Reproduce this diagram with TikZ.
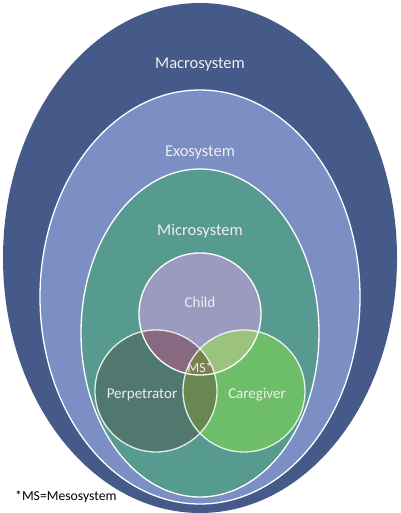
\documentclass[tikz,border=0pt]{standalone}
\usepackage{fontspec}
\setmainfont{Carlito}
\definecolor{macroc}{HTML}{465A8A}
\definecolor{exoc}{HTML}{7B8FC4}
\definecolor{microc}{HTML}{579A90}
\definecolor{childc}{HTML}{9B9BC0}
\definecolor{perpc}{HTML}{50786E}
\definecolor{carec}{HTML}{6EBE69}
\definecolor{cpc}{HTML}{876982}
\definecolor{ccc}{HTML}{9BC37D}
\definecolor{pcc}{HTML}{698750}
\definecolor{ctrc}{HTML}{788250}
\definecolor{txtc}{HTML}{EEEEEE}
\begin{document}
\begin{tikzpicture}[x=1pt,y=-1pt,
  syslabel/.style={text=txtc,font=\fontsize{16.5}{18}\selectfont,inner sep=0pt},
  inlabel/.style={text=txtc,font=\fontsize{15}{17}\selectfont,inner sep=0pt},
  whiteline/.style={draw=white,line width=1.3pt}]
\useasboundingbox (0,0) rectangle (400,513);
\fill[white] (0,0) rectangle (400,513);
% nested ellipses
\fill[macroc] (200,258) ellipse [x radius=197pt, y radius=255pt];
\filldraw[fill=exoc,whiteline] (200,297) ellipse [x radius=160pt, y radius=207pt];
\filldraw[fill=microc,whiteline] (200,333) ellipse [x radius=119pt, y radius=164pt];
% circles
\coordinate (cC) at (200,314);
\coordinate (cP) at (156,391);
\coordinate (cG) at (244,391);
\fill[childc] (cC) circle [radius=61pt];
\fill[perpc] (cP) circle [radius=61pt];
\fill[carec] (cG) circle [radius=61pt];
\begin{scope}
  \clip (cC) circle [radius=61pt];
  \fill[cpc] (cP) circle [radius=61pt];
  \fill[ccc] (cG) circle [radius=61pt];
\end{scope}
\begin{scope}
  \clip (cP) circle [radius=61pt];
  \clip (cG) circle [radius=61pt];
  \fill[pcc] (0,0) rectangle (400,513);
  \clip (cC) circle [radius=61pt];
  \fill[ctrc] (0,0) rectangle (400,513);
\end{scope}
\draw[whiteline] (cC) circle [radius=61pt];
\draw[whiteline,draw opacity=0.85] (cP) circle [radius=61pt];
\draw[whiteline,draw opacity=0.85] (cG) circle [radius=61pt];
% labels
\node[syslabel] (mac) at (200,65) {Macrosystem};
\node[syslabel] (exo) at (200,153) {Exosystem};
\node[syslabel] (mic) at (200,231) {Microsystem};
\node[inlabel] (child) at (200,302) {Child};
\node[inlabel] (perp) at (142,395) {Perpetrator};
\node[inlabel] (care) at (257,395) {Caregiver};
\node[text=txtc,font=\fontsize{14}{16}\selectfont,inner sep=0pt] (ms) at (200,368) {MS*};
\node[anchor=west,text=black,font=\fontsize{13.7}{16}\selectfont,inner sep=0pt] (note) at (15,497) {*MS=Mesosystem};
\end{tikzpicture}
\end{document}
